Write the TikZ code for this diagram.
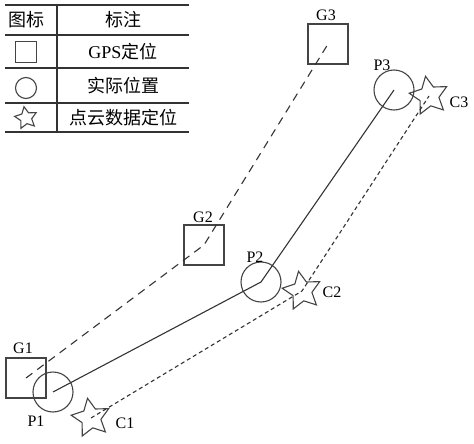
\documentclass[tikz,border=0pt]{standalone}
\usepackage{fontspec}
\setmainfont{Liberation Serif}
\newfontfamily\cjk{Noto Sans CJK SC}
\usetikzlibrary{shapes.geometric}
\definecolor{ink}{HTML}{333333}
\definecolor{shp}{HTML}{444444}
\tikzset{
  gpsbox/.style={rectangle, draw=shp, line width=1.1pt, minimum size=40pt, inner sep=0pt},
  actcirc/.style={circle, draw=shp, line width=1.1pt, minimum size=40pt, inner sep=0pt},
  pcstar/.style={star, star points=5, star point ratio=2, draw=shp, line width=1.1pt, minimum size=40pt, inner sep=0pt, shape border rotate=10},
  lbl/.style={font=\fontsize{16}{16}\selectfont, inner sep=0pt},
  tabtxt/.style={font=\fontsize{18}{18}\selectfont, inner sep=0pt},
  rule/.style={draw=ink, line width=1.3pt},
  gline/.style={draw=ink, line width=1.1pt, dash pattern=on 8pt off 6pt},
  pline/.style={draw=ink, line width=1.1pt},
  cline/.style={draw=ink, line width=1.1pt, dash pattern=on 4pt off 3pt},
}
\begin{document}
\begin{tikzpicture}[x=1pt,y=-1pt]
\useasboundingbox (0,0) rectangle (474,444);
% legend table
\coordinate (t0l) at (5,5);   \coordinate (t0r) at (189,5);
\coordinate (t1l) at (5,35);  \coordinate (t1r) at (189,35);
\coordinate (t2l) at (5,68);  \coordinate (t2r) at (189,68);
\coordinate (t3l) at (5,103); \coordinate (t3r) at (189,103);
\coordinate (t4l) at (5,132); \coordinate (t4r) at (189,132);
\coordinate (vt) at (57,5);   \coordinate (vb) at (57,132);
\draw[rule] (t0l) -- (t0r);
\draw[rule] (t1l) -- (t1r);
\draw[rule] (t2l) -- (t2r);
\draw[rule] (t3l) -- (t3r);
\draw[rule] (t4l) -- (t4r);
\draw[rule] (vt) -- (vb);
\node[tabtxt] (h1) at (27,20) {\cjk 图标};
\node[tabtxt] (h2) at (123,20) {\cjk 标注};
\node[gpsbox, minimum size=21pt] (lsq) at (26,52) {};
\node[tabtxt] (r1) at (123,52) {GPS{\cjk 定位}};
\node[actcirc, minimum size=21pt] (lci) at (26,88) {};
\node[tabtxt] (r2) at (123,86) {\cjk 实际位置};
\node[pcstar, minimum size=23pt] (lst) at (26,118) {};
\node[tabtxt] (r3) at (123,118) {\cjk 点云数据定位};
% GPS positions
\node[gpsbox] (g1) at (26,378) {};
\node[gpsbox] (g2) at (204,245) {};
\node[gpsbox] (g3) at (328,44) {};
% actual positions
\node[actcirc] (p1) at (53,392) {};
\node[actcirc] (p2) at (261,282) {};
\node[actcirc] (p3) at (394,90) {};
% point-cloud positions
\node[pcstar] (c1) at (91,418) {};
\node[pcstar] (c2) at (302,291) {};
\node[pcstar] (c3) at (429,96) {};
% connectors
\draw[gline] (g1.center) -- (g2.center) -- (g3.center);
\draw[pline] (p1.center) -- (p2.center) -- (p3.center);
\draw[cline] (c1.center) -- (c2.center) -- (c3.center);
% labels
\node[lbl] (lg1) at (23,348) {G1};
\node[lbl] (lg2) at (203,217) {G2};
\node[lbl] (lg3) at (326,15) {G3};
\node[lbl] (lp1) at (36,421) {P1};
\node[lbl] (lp2) at (255,257) {P2};
\node[lbl] (lp3) at (382,65) {P3};
\node[lbl] (lc1) at (125,423) {C1};
\node[lbl] (lc2) at (332,292) {C2};
\node[lbl] (lc3) at (459,102) {C3};
\end{tikzpicture}
\end{document}
